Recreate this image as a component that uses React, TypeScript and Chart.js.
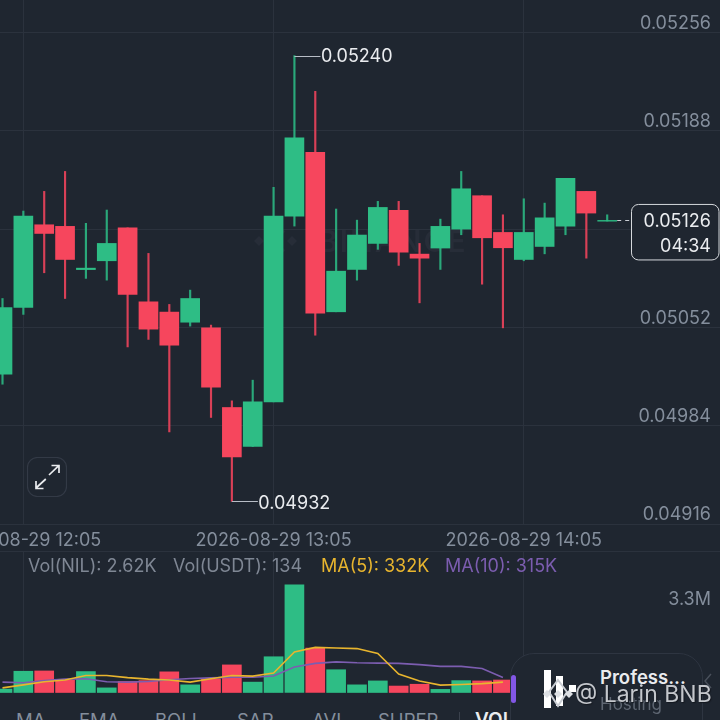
import React, { useEffect, useRef } from "react";
import { Chart, registerables } from "chart.js";

Chart.register(...registerables);

const opens = [0.050197,0.050658,0.05123,0.051219,0.05092,0.050981,0.051209,0.050697,0.050626,0.050556,0.050517,0.049966,0.049696,0.050005,0.05129,0.051731,0.050628,0.050921,0.051101,0.05133,0.051027,0.051069,0.0512,0.051431,0.051177,0.05099,0.05108,0.051221,0.051461,0.051255];
const highs = [0.05072,0.051325,0.051461,0.051599,0.05124,0.051332,0.051209,0.051032,0.050679,0.050778,0.050536,0.050012,0.050155,0.051489,0.0524,0.052153,0.051339,0.051262,0.051392,0.051392,0.051101,0.051269,0.051599,0.051431,0.051299,0.05141,0.05138,0.051551,0.051461,0.051299];
const lows = [0.050127,0.05061,0.050898,0.05072,0.050859,0.050847,0.050385,0.050437,0.049797,0.050529,0.049897,0.049316,0.049696,0.050005,0.051221,0.050466,0.050628,0.050847,0.05106,0.050949,0.05069,0.050921,0.051161,0.050819,0.050517,0.050981,0.051029,0.051161,0.050999,0.051256];
const closes = [0.050658,0.05129,0.05117,0.05099,0.05093,0.051101,0.050748,0.050508,0.050397,0.05072,0.050107,0.049624,0.050005,0.05129,0.051832,0.050619,0.050909,0.051159,0.05135,0.051041,0.050999,0.051219,0.051479,0.05114,0.051071,0.051177,0.051278,0.051551,0.051311,0.05126];

const volumes = [0.13,0.72,0.73,0.43,0.71,0.17,0.38,0.41,0.7,0.27,0.47,0.93,0.36,1.2,3.58,1.49,0.77,0.27,0.4,0.23,0.29,0.12,0.41,0.4,0.43];
const ma5 = [0.17,0.27,0.37,0.43,0.58,0.58,0.51,0.46,0.43,0.36,0.47,0.58,0.56,0.66,1.36,1.51,1.49,1.47,1.31,0.63,0.4,0.26,0.28,0.31,0.36];
const ma10 = [0.36,0.34,0.41,0.46,0.47,0.37,0.36,0.38,0.44,0.48,0.5,0.52,0.52,0.56,0.86,0.98,1.03,1.0,0.99,0.98,0.94,0.88,0.88,0.81,0.51];

const priceTicks = [0.04916, 0.04984, 0.05052, 0.0512, 0.05188, 0.05256];
const timeIndexes = [1, 13, 25];
const timeLabels = ["2026-08-29 12:05", "2026-08-29 13:05", "2026-08-29 14:05"];
const volumeTicks = [0, 3.3, 4.7];
const legendItems = [
  { text: "Vol(NIL): 2.62K", color: "#7F8794", left: 28 },
  { text: "Vol(USDT): 134", color: "#7F8794", left: 173 },
  { text: "MA(5): 332K", color: "#E8B52E", left: 321 },
  { text: "MA(10): 315K", color: "#7C5DB0", left: 445 },
];
const tabs = [
  { text: "MA", left: 16 },
  { text: "EMA", left: 79 },
  { text: "BOLL", left: 155 },
  { text: "SAR", left: 237 },
  { text: "AVL", left: 312 },
  { text: "SUPER", left: 378 },
];

const BG = "#1F2630";
const GRID = "#2B323D";
const GREEN = "#2EBD85";
const RED = "#F6465D";
const TICK = "#848E9C";
const FONT = "Inter";
const X_MIN = -0.12;
const X_MAX = 34.41;

const idx = opens.map((_, i) => i);
const isUp = (i: number) => closes[i] >= opens[i];
const candleColor = (c: any) => (isUp(c.dataIndex) ? GREEN : RED);
const noPad = (s: any) => {
  s.paddingLeft = 0;
  s.paddingRight = 0;
  s.paddingTop = 0;
  s.paddingBottom = 0;
};

const pricePlugin = {
  id: "priceMarks",
  beforeDatasetsDraw(chart: any) {
    const c = chart.ctx;
    c.save();
    c.fillStyle = "#272D38";
    const d = (x: number, y: number, r: number) => {
      c.beginPath();
      c.moveTo(x - r, y);
      c.lineTo(x, y - r);
      c.lineTo(x + r, y);
      c.lineTo(x, y + r);
      c.closePath();
      c.fill();
    };
    d(259, 241, 5);
    d(292, 241, 5);
    d(275.5, 241, 5);
    c.strokeStyle = "#272D38";
    c.lineWidth = 4;
    c.beginPath();
    c.moveTo(267, 233);
    c.lineTo(275.5, 225);
    c.lineTo(284, 233);
    c.moveTo(267, 249);
    c.lineTo(275.5, 257);
    c.lineTo(284, 249);
    c.stroke();
    c.font = `600 30px ${FONT}`;
    c.textAlign = "left";
    c.textBaseline = "middle";
    c.letterSpacing = "2px";
    c.fillText("BINANCE", 318, 243);
    c.restore();
  },
  afterDatasetsDraw(chart: any) {
    const c = chart.ctx;
    const xs = chart.scales.x;
    const ys = chart.scales.y;
    const hi = highs.indexOf(Math.max(...highs));
    const lo = lows.indexOf(Math.min(...lows));
    c.save();
    c.font = `400 18px ${FONT}`;
    c.textBaseline = "middle";
    c.textAlign = "left";
    c.lineWidth = 1;
    c.strokeStyle = "#B7BDC6";
    c.fillStyle = "#EAECEF";
    const hx = xs.getPixelForValue(hi);
    const hy = Math.round(ys.getPixelForValue(highs[hi])) + 0.5;
    c.beginPath();
    c.moveTo(hx, hy);
    c.lineTo(hx + 26, hy);
    c.stroke();
    c.fillText(highs[hi].toFixed(5), hx + 26.5, hy + 0.5);
    const lx = xs.getPixelForValue(lo);
    const ly = Math.round(ys.getPixelForValue(lows[lo])) + 0.5;
    c.beginPath();
    c.moveTo(lx, ly);
    c.lineTo(lx + 26, ly);
    c.stroke();
    c.fillText(lows[lo].toFixed(5), lx + 26.5, ly + 2);

    const last = closes.length - 1;
    const py = ys.getPixelForValue(closes[last]);
    c.setLineDash([4, 4]);
    c.strokeStyle = "#C9CDD3";
    c.beginPath();
    c.moveTo(xs.getPixelForValue(last) + 10, Math.round(py) + 0.5);
    c.lineTo(632, Math.round(py) + 0.5);
    c.stroke();
    c.setLineDash([]);
    c.beginPath();
    c.roundRect(631.5, py - 16, 87.5, 55.5, 7);
    c.fillStyle = BG;
    c.fill();
    c.strokeStyle = "#D5D8DC";
    c.stroke();
    c.fillStyle = "#EAECEF";
    c.textAlign = "right";
    c.font = `400 18px ${FONT}`;
    c.fillText(closes[last].toFixed(5), 711, py + 1);
    c.fillText("04:34", 711, py + 26);
    c.restore();
  },
};

export default function App() {
  const priceRef = useRef<HTMLCanvasElement>(null);
  const volumeRef = useRef<HTMLCanvasElement>(null);

  useEffect(() => {
    const price = new Chart(priceRef.current as any, {
      type: "bar",
      data: {
        datasets: [
          {
            data: idx.map((i) => ({ x: i, y: [Math.min(opens[i], closes[i]), Math.max(opens[i], closes[i])] })),
            backgroundColor: candleColor,
            barThickness: 19,
            grouped: false,
            order: 1,
            borderSkipped: false,
          } as any,
          {
            data: idx.map((i) => ({ x: i, y: [lows[i], highs[i]] })),
            backgroundColor: (c: any) => (isUp(c.dataIndex) ? "#2AA87A" : "#D94057"),
            barThickness: 1.5,
            grouped: false,
            order: 2,
            borderSkipped: false,
          } as any,
        ],
      },
      options: {
        animation: false,
        responsive: false,
        devicePixelRatio: 1,
        layout: { padding: 0 },
        plugins: { legend: { display: false }, tooltip: { enabled: false } },
        scales: {
          x: {
            type: "linear",
            min: X_MIN,
            max: X_MAX,
            offset: false,
            border: { display: false },
            grid: { color: GRID, offset: false, drawTicks: false },
            afterBuildTicks: (s: any) => {
              s.ticks = timeIndexes.map((value) => ({ value }));
            },
            afterFit: (s: any) => {
              noPad(s);
              s.height = 28;
            },
            ticks: {
              autoSkip: false,
              maxRotation: 0,
              padding: 6,
              color: TICK,
              font: { family: FONT, size: 18 },
              callback: (v: any) => timeLabels[timeIndexes.indexOf(v)],
            },
          },
          y: {
            position: "right",
            min: 0.04916,
            max: 0.052785,
            border: { display: false },
            grid: { color: GRID, drawTicks: false },
            afterBuildTicks: (s: any) => {
              s.ticks = priceTicks.map((value) => ({ value }));
            },
            afterFit: (s: any) => {
              noPad(s);
              s.width = 0;
            },
            ticks: {
              mirror: true,
              padding: -9,
              labelOffset: -9,
              color: TICK,
              font: { family: FONT, size: 18 },
              callback: (v: any) => Number(v).toFixed(5),
            },
          },
        },
      } as any,
      plugins: [pricePlugin],
    });

    const volume = new Chart(volumeRef.current as any, {
      type: "bar",
      data: {
        datasets: [
          {
            type: "line",
            data: ma5.map((y, x) => ({ x, y })),
            borderColor: "#E8B52E",
            borderWidth: 1.6,
            pointRadius: 0,
            tension: 0,
            order: 0,
          } as any,
          {
            type: "line",
            data: ma10.map((y, x) => ({ x, y })),
            borderColor: "#7C5DB0",
            borderWidth: 1.6,
            pointRadius: 0,
            tension: 0,
            order: 1,
          } as any,
          {
            data: volumes.map((y, x) => ({ x, y })),
            backgroundColor: (c: any) => (isUp(c.dataIndex) ? GREEN : RED),
            barThickness: 19,
            grouped: false,
            order: 2,
          } as any,
        ],
      },
      options: {
        animation: false,
        responsive: false,
        devicePixelRatio: 1,
        layout: { padding: 0 },
        plugins: { legend: { display: false }, tooltip: { enabled: false } },
        scales: {
          x: {
            type: "linear",
            min: X_MIN,
            max: X_MAX,
            offset: false,
            border: { display: false },
            grid: { color: GRID, offset: false, drawTicks: false },
            afterBuildTicks: (s: any) => {
              s.ticks = timeIndexes.map((value) => ({ value }));
            },
            afterFit: (s: any) => {
              noPad(s);
              s.height = 0;
            },
            ticks: { display: false },
          },
          y: {
            position: "right",
            min: 0,
            max: 4.7,
            border: { display: false },
            grid: {
              color: (c: any) => (c.tick && c.tick.value === 3.3 ? "transparent" : GRID),
              drawTicks: false,
            },
            afterBuildTicks: (s: any) => {
              s.ticks = volumeTicks.map((value) => ({ value }));
            },
            afterFit: (s: any) => {
              noPad(s);
              s.width = 0;
            },
            ticks: {
              mirror: true,
              padding: -9,
              labelOffset: 6,
              color: TICK,
              font: { family: FONT, size: 18 },
              callback: (v: any) => (v === 3.3 ? "3.3M" : ""),
            },
          },
        },
      } as any,
    });

    return () => {
      price.destroy();
      volume.destroy();
    };
  }, []);

  const abs = (s: React.CSSProperties): React.CSSProperties => ({ position: "absolute", whiteSpace: "nowrap", ...s });

  return (
    <div style={{ position: "fixed", left: 0, top: 0, width: 720, height: 720, overflow: "hidden", background: BG, fontFamily: FONT }}>
      <canvas ref={priceRef} width={720} height={552} style={{ position: "absolute", left: 0, top: 0, width: 720, height: 552 }} />
      <canvas ref={volumeRef} width={720} height={142} style={{ position: "absolute", left: 0, top: 551, width: 720, height: 142 }} />

      {legendItems.map((l) => (
        <div key={l.text} style={abs({ left: l.left, top: 556, lineHeight: "20px", fontSize: 18, color: l.color })}>
          {l.text}
        </div>
      ))}

      {tabs.map((t) => (
        <div key={t.text} style={abs({ left: t.left, top: 710, lineHeight: "20px", fontSize: 18.5, color: TICK })}>
          {t.text}
        </div>
      ))}
      <div style={abs({ left: 459, top: 712, width: 1, height: 8, background: "#3A414C" })} />
      <div style={abs({ left: 475, top: 709, lineHeight: "22px", fontSize: 19, fontWeight: 600, color: "#EAECEF" })}>VOL</div>

      <svg width={40} height={40} style={{ position: "absolute", left: 27, top: 457 }}>
        <rect x={0.5} y={0.5} width={39} height={39} rx={10} fill="none" stroke="#333A46" strokeWidth={1.2} />
        <path d="M22 18 L31.5 8.8 M24.5 8.5 H32 V16 M18.8 22 L9 31 M9 24 V31.5 H16.5" fill="none" stroke="#EAECEF" strokeWidth={1.7} />
      </svg>

      <div style={abs({ left: 509.5, top: 653, width: 193, height: 90, borderRadius: 24, border: "1.5px solid #2E3541", background: BG, boxSizing: "border-box" })} />
      <div style={abs({ left: 510.5, top: 675, width: 5.5, height: 28, borderRadius: 3, background: "#8257E5" })} />
      <div style={abs({ left: 544, top: 670, width: 7, height: 38, background: "#FFFFFF" })} />
      <div style={abs({ left: 556, top: 676, width: 7, height: 30, background: "#FFFFFF" })} />
      <div style={abs({ left: 569, top: 685, width: 7, height: 7, background: "#FFFFFF" })} />
      <svg width={34} height={44} style={{ position: "absolute", left: 541, top: 672 }}>
        <path d="M17 8 L26 20 L17 34 L8 20 Z" fill="none" stroke="#C9CDD3" strokeWidth={2} />
        <path d="M2 22 L6 18 L10 22 L6 26 Z M24 22 L28 18 L32 22 L28 26 Z M13 22 L17 18 L21 22 L17 26 Z" fill="#DDE0E4" />
      </svg>
      <div style={abs({ left: 600, top: 666, lineHeight: "22px", fontSize: 18.5, fontWeight: 600, color: "#EAECEF" })}>Profess...</div>
      <div style={abs({ left: 600, top: 693, lineHeight: "22px", fontSize: 17, color: "#5E6672" })}>Hosting</div>
      <div style={abs({ left: 575, top: 681, lineHeight: "26px", fontSize: 23, color: "#C4C7CC", textShadow: "1px 1px 1px #14181F" })}>@ Larin BNB</div>
      <svg width={10} height={20} style={{ position: "absolute", left: 703, top: 671 }}>
        <path d="M8 3 L2 10 L8 17" fill="none" stroke="#4A515C" strokeWidth={1.4} />
      </svg>
    </div>
  );
}
